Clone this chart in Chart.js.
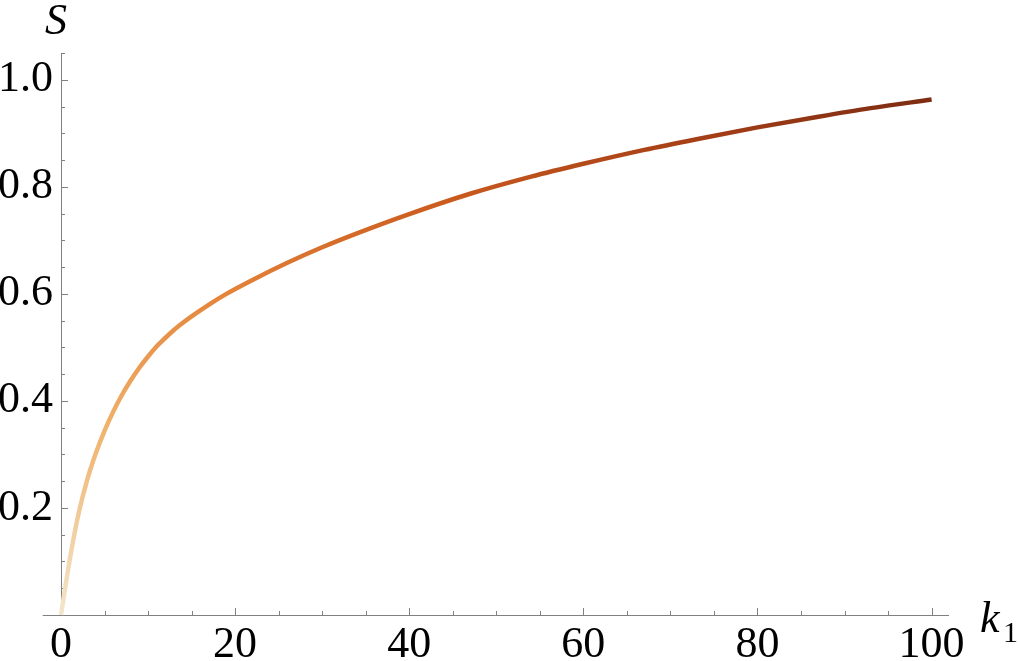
<!DOCTYPE html>
<html>
<head>
<meta charset="utf-8">
<script src="https://cdn.jsdelivr.net/npm/chart.js@4"></script>
<style>
  html, body { margin: 0; padding: 0; background: #fff; }
  #wrap { width: 1020px; height: 661px; }
</style>
</head>
<body>
<div id="wrap"><canvas id="chart" width="1020" height="661"></canvas></div>
<script>
    // values
    const kValues = [0, 1, 2, 3, 4, 5, 6, 7, 8, 9, 10, 11, 12, 13, 14, 15, 17, 19, 22, 26, 30, 34, 40, 47, 54, 60, 67, 73, 80, 87, 93, 100];
    const sValues = [0, 0.103, 0.188, 0.252, 0.302, 0.344, 0.380, 0.411, 0.438, 0.462, 0.483, 0.502, 0.518, 0.533, 0.546, 0.558, 0.580, 0.600, 0.626, 0.658, 0.687, 0.713, 0.749, 0.787, 0.819, 0.843, 0.869, 0.889, 0.911, 0.931, 0.947, 0.963];
    const xTickLabels = [0, 20, 40, 60, 80, 100];
    const yTickLabels = [0.2, 0.4, 0.6, 0.8, 1.0];

    // colour runs with S (light at the bottom, dark at the top)
    const colorStops = [
      [0.0, '#f3e6cc'],
      [0.35, '#f0b26c'],
      [0.6, '#e4843a'],
      [0.78, '#c95a1d'],
      [0.89, '#a63f17'],
      [0.963, '#7e2c12']
    ];

    const serif = "'Liberation Serif', 'Times New Roman', Times, serif";

    const points = kValues.map((k, i) => ({ x: k, y: sValues[i] }));

    function lineGradient(context) {
      const chart = context.chart;
      const yScale = chart.scales.y;
      if (!yScale || !chart.chartArea) return '#d06020';
      const y0 = yScale.getPixelForValue(0);
      const y1 = yScale.getPixelForValue(0.963);
      const g = chart.ctx.createLinearGradient(0, y0, 0, y1);
      colorStops.forEach(s => g.addColorStop(s[0] / 0.963, s[1]));
      return g;
    }

    // Mathematica-like axes: lines through the origin, ticks pointing inward
    const axesPlugin = {
      id: 'axes',
      beforeDatasetsDraw(chart) {
        const ctx = chart.ctx;
        const xs = chart.scales.x, ys = chart.scales.y;
        const x0 = xs.getPixelForValue(0), y0 = ys.getPixelForValue(0);
        ctx.save();
        ctx.strokeStyle = '#808080';
        ctx.lineWidth = 1;
        ctx.beginPath();
        ctx.moveTo(xs.getPixelForValue(-2.1), y0 + 0.5);
        ctx.lineTo(xs.getPixelForValue(102), y0 + 0.5);
        ctx.moveTo(x0 + 0.5, ys.getPixelForValue(0));
        ctx.lineTo(x0 + 0.5, ys.getPixelForValue(1.05));
        xs.ticks.forEach(t => {
          const px = Math.round(xs.getPixelForValue(t.value)) + 0.5;
          const len = t.value % 20 === 0 ? 7 : 4;
          ctx.moveTo(px, y0);
          ctx.lineTo(px, y0 - len);
        });
        ys.ticks.forEach(t => {
          const py = Math.round(ys.getPixelForValue(t.value)) + 0.5;
          const len = Math.round(t.value * 20) % 4 === 0 ? 7 : 4;
          ctx.moveTo(x0, py);
          ctx.lineTo(x0 + len, py);
        });
        ctx.stroke();
        ctx.restore();
      },
      afterDraw(chart) {
        const ctx = chart.ctx;
        ctx.save();
        ctx.fillStyle = '#000';
        ctx.textBaseline = 'alphabetic';
        ctx.font = 'italic 44px ' + serif;
        ctx.fillText('S', 45, 34);
        ctx.fillText('k', 980, 632);
        ctx.font = '30px ' + serif;
        ctx.fillText('1', 1003, 642);
        ctx.restore();
      }
    };

    new Chart(document.getElementById('chart'), {
      type: 'line',
      data: {
        datasets: [{
          data: points,
          borderColor: lineGradient,
          borderWidth: 4.5,
          pointRadius: 0,
          fill: false,
          cubicInterpolationMode: 'monotone',
          clip: false
        }]
      },
      options: {
        responsive: false,
        animation: false,
        layout: { padding: { top: 53, right: 71, left: 0, bottom: 0 } },
        plugins: { legend: { display: false }, tooltip: { enabled: false } },
        scales: {
          x: {
            type: 'linear',
            min: 0,
            max: 102,
            afterFit: s => { s.height = 46; },
            border: { display: false },
            grid: { display: false, drawTicks: false },
            ticks: {
              stepSize: 5,
              includeBounds: false,
              autoSkip: false,
              maxRotation: 0,
              padding: 4,
              color: '#000',
              font: { family: serif, size: 44 },
              callback: v => xTickLabels.includes(v) ? String(v) : ''
            }
          },
          y: {
            type: 'linear',
            min: 0,
            max: 1.05,
            afterFit: s => { s.width = 61; },
            border: { display: false },
            grid: { display: false, drawTicks: false },
            ticks: {
              stepSize: 0.05,
              includeBounds: false,
              autoSkip: false,
              padding: 8,
              color: '#000',
              font: { family: serif, size: 44 },
              callback: v => {
                const r = Math.round(v * 10) / 10;
                return (Math.abs(v - r) < 1e-6 && yTickLabels.includes(r)) ? r.toFixed(1) : '';
              }
            }
          }
        }
      },
      plugins: [axesPlugin]
    });
</script>
</body>
</html>
